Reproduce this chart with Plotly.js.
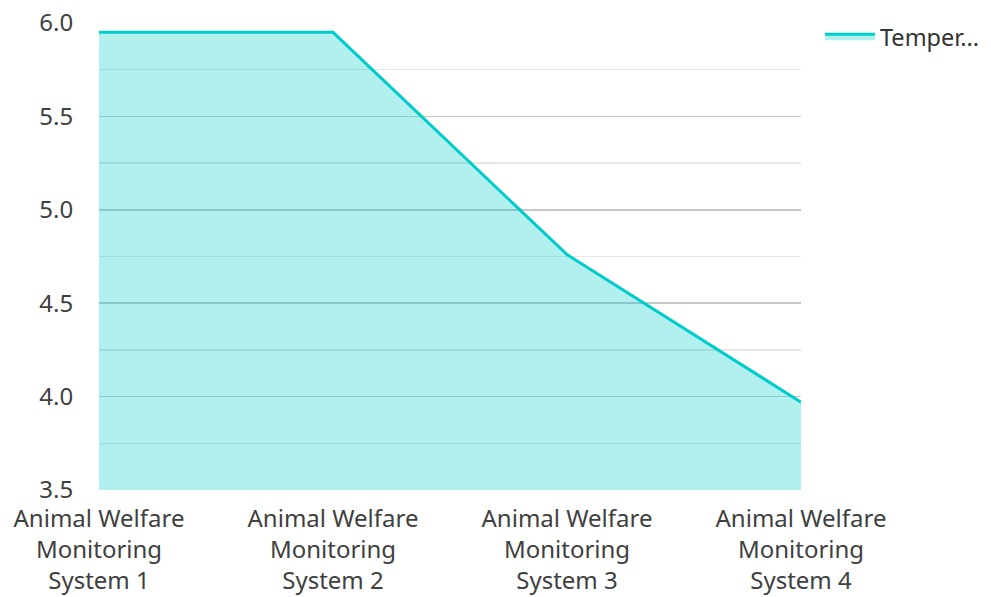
<!DOCTYPE html>
<html>
<head>
<meta charset="utf-8">
<script src="https://cdn.plot.ly/plotly-3.0.1.min.js"></script>
<style>html,body{margin:0;padding:0;background:#fff;}#chart{width:991px;height:597px;}</style>
</head>
<body>
<div id="chart"></div>
<script>
const categories = [
  "Animal Welfare<br>Monitoring<br>System 1",
  "Animal Welfare<br>Monitoring<br>System 2",
  "Animal Welfare<br>Monitoring<br>System 3",
  "Animal Welfare<br>Monitoring<br>System 4"
];
const seriesName = "Temper...";
const values = [5.95, 5.95, 4.76, 3.97];

const trace = {
  x: categories,
  y: values,
  type: 'scatter',
  mode: 'lines',
  name: seriesName,
  fill: 'tozeroy',
  fillcolor: 'rgba(0,204,204,0.3)',
  line: {color: '#00cccc', width: 3},
  showlegend: true
};

const layout = {
  width: 991,
  height: 597,
  margin: {l: 99, r: 190, t: 23, b: 107, autoexpand: false},
  paper_bgcolor: '#fff',
  plot_bgcolor: '#fff',
  font: {family: '"Noto Sans", sans-serif', size: 24, color: '#404040'},
  showlegend: true,
  legend: {
    x: 1.027, y: 1.018, xanchor: 'left', yanchor: 'top',
    itemwidth: 50,
    font: {size: 23.5, color: '#333'},
    bgcolor: 'rgba(0,0,0,0)'
  },
  xaxis: {
    type: 'category',
    range: [0, 3],
    showgrid: false,
    zeroline: false,
    showline: false,
    ticks: 'outside',
    ticklen: 7,
    tickcolor: 'rgba(0,0,0,0)',
    tickfont: {size: 24},
    automargin: false,
    fixedrange: true
  },
  yaxis: {
    range: [3.5, 6.0],
    dtick: 0.5,
    tick0: 3.5,
    tickformat: '.1f',
    showgrid: true,
    gridcolor: '#c8c8c8',
    gridwidth: 1.5,
    zeroline: false,
    showline: false,
    ticks: 'outside',
    ticklen: 20,
    tickcolor: 'rgba(0,0,0,0)',
    minor: {dtick: 0.25, showgrid: true, gridcolor: '#e6e6e6', gridwidth: 1.5},
    automargin: false,
    fixedrange: true
  }
};

Plotly.newPlot('chart', [trace], layout, {displayModeBar: false, staticPlot: true});
</script>
</body>
</html>
